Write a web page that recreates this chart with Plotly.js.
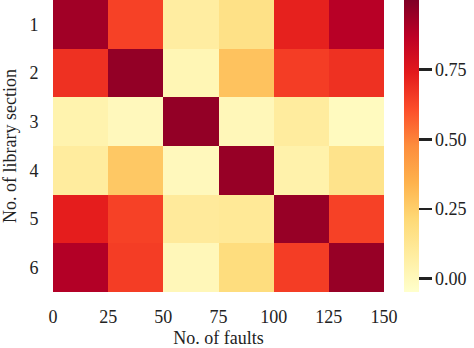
<!DOCTYPE html>
<html>
<head>
<meta charset="utf-8">
<script src="https://cdn.plot.ly/plotly-3.0.1.min.js"></script>
<style>html,body{margin:0;padding:0;background:#fff;}#chart{width:474px;height:348px;}</style>
</head>
<body>
<div id="chart"></div>
<script>
// Fault blocks (bin edges along x) and library sections (rows)
const faultEdges = [0, 25, 50, 75, 100, 125, 150];
const sections = [1, 2, 3, 4, 5, 6];
// Values per library section across the six fault blocks
const sec1 = [0.93, 0.64, 0.08, 0.16, 0.72, 0.88];
const sec2 = [0.68, 0.96, 0.02, 0.29, 0.65, 0.68];
const sec3 = [0.04, 0.00, 0.96, 0.01, 0.09, -0.01];
const sec4 = [0.09, 0.27, 0.00, 0.95, 0.05, 0.15];
const sec5 = [0.73, 0.64, 0.10, 0.11, 0.95, 0.64];
const sec6 = [0.89, 0.65, 0.01, 0.19, 0.65, 0.95];
const xTicks = [0, 25, 50, 75, 100, 125, 150];
const cbTicks = [0, 0.25, 0.5, 0.75];
const cbTickText = ["0.00", "0.25", "0.50", "0.75"];

const ylorrd = [
  [0.0, '#ffffcc'], [0.125, '#ffeda0'], [0.25, '#fed976'], [0.375, '#feb24c'],
  [0.5, '#fd8d3c'], [0.625, '#fc4e2a'], [0.75, '#e31a1c'], [0.875, '#bd0026'], [1.0, '#800026']
];

const font = {family: '"Liberation Serif", "Times New Roman", serif', size: 18, color: '#222'};

const trace = {
  type: 'heatmap',
  x: faultEdges,
  y: sections,
  z: [sec1, sec2, sec3, sec4, sec5, sec6],
  zmin: -0.048,
  zmax: 1.0,
  colorscale: ylorrd,
  hoverinfo: 'skip',
  colorbar: {
    x: 1.061, xanchor: 'left', xpad: 0,
    y: 0.5, yanchor: 'middle', ypad: 0,
    len: 1, lenmode: 'fraction',
    thickness: 15, thicknessmode: 'pixels',
    outlinewidth: 0,
    ticks: 'outside', ticklen: 13, tickwidth: 2.5, tickcolor: '#222',
    tickvals: cbTicks, ticktext: cbTickText,
    tickfont: font
  }
};

const layout = {
  width: 474, height: 348,
  margin: {l: 53, r: 90, t: 0, b: 56},
  paper_bgcolor: '#fff', plot_bgcolor: '#fff',
  font: font,
  xaxis: {
    range: [0, 150], tickvals: xTicks, ticktext: xTicks.map(String),
    ticks: 'outside', ticklen: 8, tickcolor: 'rgba(0,0,0,0)',
    showgrid: false, zeroline: false, showline: false,
    tickfont: font,
    title: {text: 'No. of faults', font: font, standoff: 12}
  },
  yaxis: {
    range: [6.5, 0.5], tickvals: sections, ticktext: sections.map(String),
    ticks: 'outside', ticklen: 10, tickcolor: 'rgba(0,0,0,0)',
    showgrid: false, zeroline: false, showline: false,
    tickfont: font,
    title: {text: 'No. of library section', font: font, standoff: 8}
  }
};

Plotly.newPlot('chart', [trace], layout, {displayModeBar: false, staticPlot: true});
</script>
</body>
</html>
